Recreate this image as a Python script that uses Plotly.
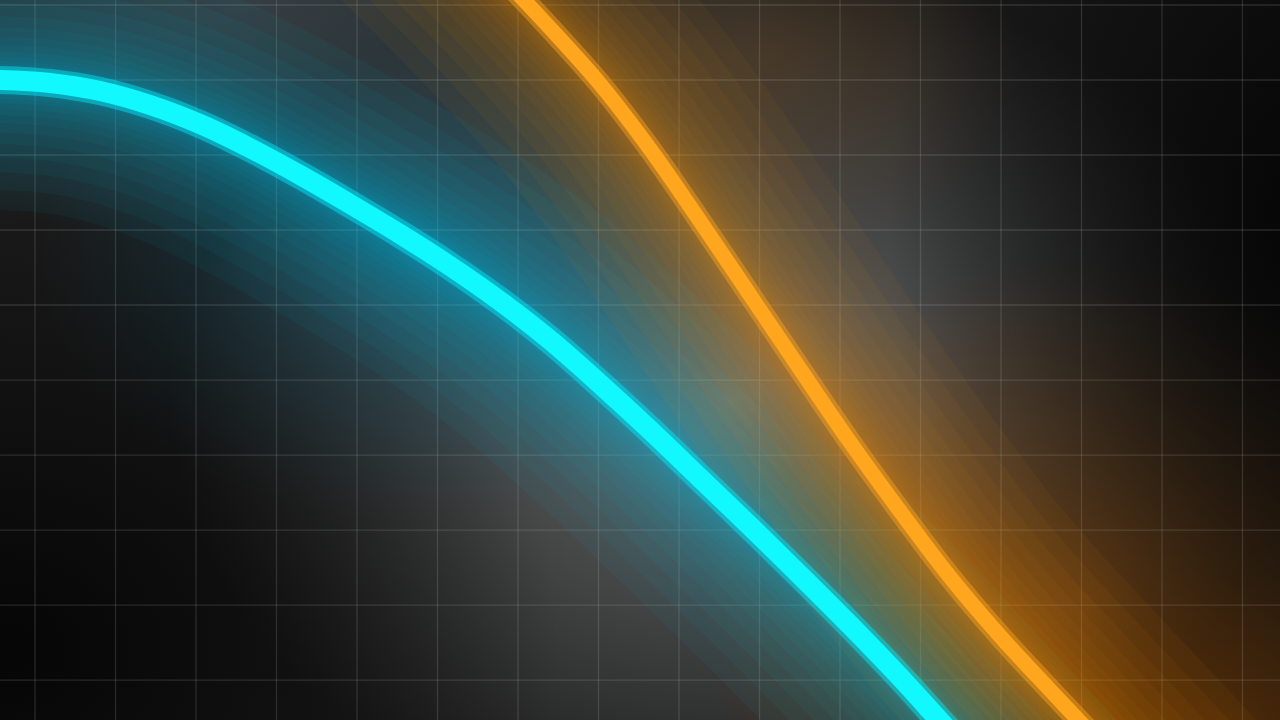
import plotly.graph_objects as go

# ---- data (x in grid columns, y in grid rows) ----
cyan_x = [-2.298, -0.435, 0.186, 0.807, 1.429, 2.050, 2.671, 3.292, 3.913, 4.534, 5.155, 5.776,
          6.398, 7.019, 7.640, 8.261, 8.882, 9.503, 10.124, 10.745, 11.366, 12.733]
cyan_y = [8.010, 8.000, 7.960, 7.853, 7.667, 7.413, 7.093, 6.733, 6.347, 5.947, 5.520, 5.053,
          4.533, 3.947, 3.333, 2.693, 2.053, 1.400, 0.733, 0.040, -0.693, -2.267]

orange_x = [4.534, 5.776, 6.398, 7.019, 7.640, 8.261, 8.882, 9.503, 10.124, 10.745, 11.366, 11.988,
            12.609, 13.230, 14.472]
orange_y = [10.733, 9.400, 8.693, 7.947, 7.080, 6.120, 5.133, 4.147, 3.173, 2.253, 1.373, 0.587,
            -0.133, -0.840, -2.267]

grid_cols = list(range(0, 16))
grid_rows = list(range(0, 10))

# ---- view (grid units) ----
X_RANGE = [-0.435, 15.466]
Y_RANGE = [-0.533, 9.067]
PX_X = 80.5   # pixels per grid column
PX_Y = 75.0   # pixels per grid row


def ux(px):
    return (px - 35) / PX_X


def uy(py):
    return (680 - py) / PX_Y


fig = go.Figure()


def blob(cx, cy, rx, ry, rgb, a):
    x0, x1 = ux(cx - rx), ux(cx + rx)
    y0, y1 = uy(cy + ry), uy(cy - ry)
    fig.add_trace(go.Scatter(
        x=[x0, x1, x1, x0, x0], y=[y0, y0, y1, y1, y0],
        mode="lines", fill="toself", line=dict(width=0),
        fillgradient=dict(type="radial",
                          colorscale=[[0, f"rgba({rgb},{a})"],
                                      [0.5, f"rgba({rgb},{a * 0.5})"],
                                      [1, f"rgba({rgb},0)"]]),
        hoverinfo="skip", showlegend=False))


# background lighting
blob(730, 400, 560, 440, "108,110,110", 0.95)
blob(420, 260, 380, 260, "22,95,120", 0.55)
blob(240, 0, 560, 240, "60,72,78", 0.8)
blob(760, 60, 260, 200, "120,80,35", 0.35)
blob(1080, 600, 380, 340, "165,85,5", 0.6)
blob(1230, 720, 220, 150, "120,58,0", 0.55)
blob(0, 650, 560, 470, "4,4,4", 0.95)
blob(1310, 220, 420, 660, "5,5,5", 0.98)

# grid
gx, gy = [], []
for c in grid_cols:
    gx += [c, c, None]
    gy += [Y_RANGE[0] - 1, Y_RANGE[1] + 1, None]
for r in grid_rows:
    gx += [X_RANGE[0] - 1, X_RANGE[1] + 1, None]
    gy += [r, r, None]
fig.add_trace(go.Scatter(x=gx, y=gy, mode="lines",
                         line=dict(color="rgba(205,205,205,0.16)", width=1.3),
                         hoverinfo="skip", showlegend=False))

# glowing curves: all soft glows first, then the bright cores on top
curves = [
    (cyan_x, cyan_y, "0,205,245", "0,240,255", "#12f8ff", 20, 0.052),
    (orange_x, orange_y, "255,140,10", "255,165,30", "#ffa61e", 15, 0.046),
]
glow_widths = [260, 220, 185, 155, 128, 105, 86, 70, 57, 46, 38, 32]
for xs, ys, rgb, halo, core, w, a in curves:
    for width in glow_widths:
        fig.add_trace(go.Scatter(x=xs, y=ys, mode="lines",
                                 line=dict(color=f"rgba({rgb},{a})", width=width, shape="spline"),
                                 hoverinfo="skip", showlegend=False))
for xs, ys, rgb, halo, core, w, a in curves:
    fig.add_trace(go.Scatter(x=xs, y=ys, mode="lines",
                             line=dict(color=f"rgba({halo},0.45)", width=w + 8, shape="spline"),
                             hoverinfo="skip", showlegend=False))
    fig.add_trace(go.Scatter(x=xs, y=ys, mode="lines",
                             line=dict(color=core, width=w, shape="spline"),
                             hoverinfo="skip", showlegend=False))

fig.update_layout(
    width=1280, height=720,
    margin=dict(l=0, r=0, t=0, b=0),
    paper_bgcolor="#1b1b1b", plot_bgcolor="#1b1b1b",
    xaxis=dict(range=X_RANGE, visible=False, fixedrange=True),
    yaxis=dict(range=Y_RANGE, visible=False, fixedrange=True),
    showlegend=False,
)

fig.write_html("out.html", config={"displayModeBar": False},
               post_script="document.body.style.margin='0';document.body.style.overflow='hidden';")
